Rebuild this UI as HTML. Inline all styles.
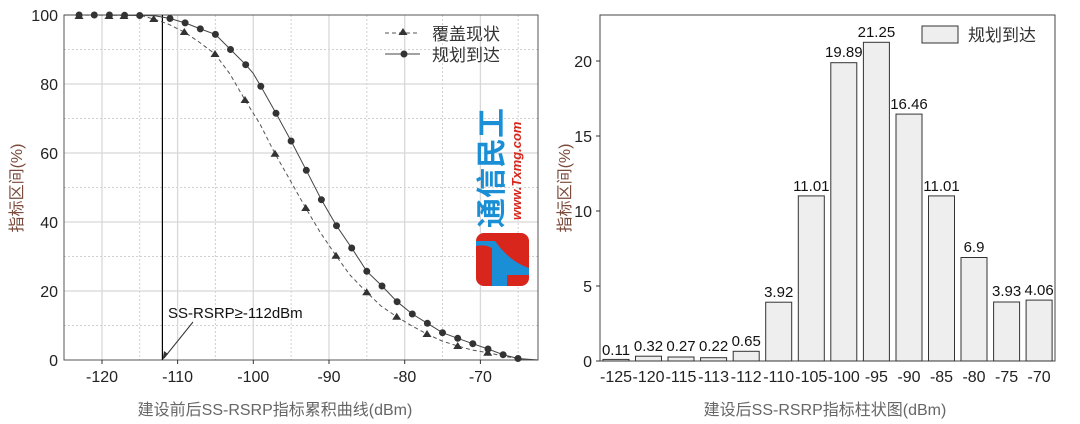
<!DOCTYPE html>
<html><head><meta charset="utf-8"><style>
body{margin:0;background:#fff}
svg{display:block}
text{font-family:"Liberation Sans","Noto Sans CJK SC",sans-serif}
</style></head><body>
<svg width="1080" height="424" viewBox="0 0 1080 424">
<g stroke="#d0d0d0" stroke-width="1" stroke-dasharray="2,2">
<line x1="139.7" y1="15" x2="139.7" y2="360"/><line x1="215.4" y1="15" x2="215.4" y2="360"/><line x1="291.1" y1="15" x2="291.1" y2="360"/><line x1="366.8" y1="15" x2="366.8" y2="360"/><line x1="442.5" y1="15" x2="442.5" y2="360"/><line x1="518.2" y1="15" x2="518.2" y2="360"/>
<line x1="64" y1="325.5" x2="538" y2="325.5"/><line x1="64" y1="256.5" x2="538" y2="256.5"/><line x1="64" y1="187.5" x2="538" y2="187.5"/><line x1="64" y1="118.5" x2="538" y2="118.5"/><line x1="64" y1="49.5" x2="538" y2="49.5"/>
</g>
<g stroke="#d8d8d8" stroke-width="1.3">
<line x1="102" y1="15" x2="102" y2="360"/><line x1="177.6" y1="15" x2="177.6" y2="360"/><line x1="253.3" y1="15" x2="253.3" y2="360"/><line x1="329" y1="15" x2="329" y2="360"/><line x1="404.7" y1="15" x2="404.7" y2="360"/><line x1="480.4" y1="15" x2="480.4" y2="360"/>
<line x1="64" y1="291" x2="538" y2="291"/><line x1="64" y1="222" x2="538" y2="222"/><line x1="64" y1="153" x2="538" y2="153"/><line x1="64" y1="84" x2="538" y2="84"/>
</g>
<rect x="64" y="15" width="474" height="345" fill="none" stroke="#555" stroke-width="1"/>
<g stroke="#333" stroke-width="1">
<line x1="102" y1="360" x2="102" y2="364"/><line x1="177.6" y1="360" x2="177.6" y2="364"/><line x1="253.3" y1="360" x2="253.3" y2="364"/><line x1="329" y1="360" x2="329" y2="364"/><line x1="404.7" y1="360" x2="404.7" y2="364"/><line x1="480.4" y1="360" x2="480.4" y2="364"/>
</g>
<g font-size="16" fill="#222" text-anchor="end">
<text x="58" y="21">100</text><text x="58" y="90">80</text><text x="58" y="159">60</text><text x="58" y="228">40</text><text x="58" y="297">20</text><text x="58" y="366">0</text>
</g>
<g font-size="16" fill="#222" text-anchor="middle">
<text x="102" y="382">-120</text><text x="177.6" y="382">-110</text><text x="253.3" y="382">-100</text><text x="329" y="382">-90</text><text x="404.7" y="382">-80</text><text x="480.4" y="382">-70</text>
</g>
<text x="275" y="415" font-size="16" fill="#666" text-anchor="middle">建设前后SS-RSRP指标累积曲线(dBm)</text>
<text transform="translate(22,188) rotate(-90)" font-size="16" fill="#7a4a3a" text-anchor="middle">指标区间(%)</text>
<rect x="476" y="233" width="53" height="53" rx="8" fill="#d9261c"/>
<path d="M476,241 L495,241 Q510,262 529,268 L529,275 L507,275 L507,286 L492,286 L492,248 Q485,244 476,246 Z" fill="#1a8fd6"/>
<text transform="translate(502,228) rotate(-90)" font-size="30" font-weight="bold" fill="#1a8fd6">通信民工</text>
<text transform="translate(521,220) rotate(-90)" font-size="13" font-weight="bold" font-style="italic" fill="#d9261c">www.Txmg.com</text>
<line x1="162.4" y1="15" x2="162.4" y2="360" stroke="#000" stroke-width="1.2"/>
<line x1="193" y1="322" x2="164" y2="358" stroke="#333" stroke-width="1"/>
<path d="M162.5,360 L164,351 L168,354 Z" fill="#333"/>
<text x="168" y="318" font-size="15" fill="#111">SS-RSRP≥-112dBm</text>
<polyline fill="none" stroke="#555" stroke-width="1" stroke-dasharray="4,3" points="64,15 140,15.3 153.7,19 168,24 184.3,32 199,42 215,54 230,74 245,100 260,124 275,153.7 290,180 305.7,208 320,232 336,255.7 350,275 366.7,292.3 381,306 396.7,316.7 412,326 427,334 442,341 457.7,346 472,350 487.7,352.7 503,356 520,359 538,360"/>
<g fill="#333">
<path d="M153.7,15 l4.5,7 h-9z"/><path d="M184.3,28 l4.5,7 h-9z"/><path d="M215,50 l4.5,7 h-9z"/><path d="M245,96 l4.5,7 h-9z"/><path d="M275,149.7 l4.5,7 h-9z"/><path d="M305.7,204 l4.5,7 h-9z"/><path d="M336,251.7 l4.5,7 h-9z"/><path d="M366.7,288.3 l4.5,7 h-9z"/><path d="M396.7,312.7 l4.5,7 h-9z"/><path d="M427,330 l4.5,7 h-9z"/><path d="M457.7,342 l4.5,7 h-9z"/><path d="M487.7,348.7 l4.5,7 h-9z"/>
<path d="M79,12 l4.5,7 h-9z"/><path d="M109,12 l4.5,7 h-9z"/><path d="M124,12 l4.5,7 h-9z"/>
</g>
<polyline fill="none" stroke="#444" stroke-width="1" points="64,15 79.1,15 94.3,15 109.4,15 124.6,15.3 139.7,15.5 154.8,15.8 170,18.5 185.1,22.9 200.3,28.9 215.4,34.4 230.5,49.5 245.7,64.7 253,73 260.8,86.3 276,113.3 291.1,141 306.3,170.3 321.4,199.7 336.5,225.7 351.7,248 366.8,271.3 382,286 397.1,301.7 412.3,314 427.4,323.3 442.5,332.7 457.7,338.3 472.8,343.7 488,349 503.1,354.7 518,358.5 538,360"/>
<g fill="#333">
<circle cx="79.1" cy="15" r="3.5"/><circle cx="94.3" cy="15" r="3.5"/><circle cx="109.4" cy="15" r="3.5"/><circle cx="124.6" cy="15.3" r="3.5"/><circle cx="139.7" cy="15.5" r="3.5"/><circle cx="170" cy="18.5" r="3.5"/><circle cx="185.1" cy="22.9" r="3.5"/><circle cx="200.3" cy="28.9" r="3.5"/><circle cx="215.4" cy="34.4" r="3.5"/><circle cx="230.5" cy="49.5" r="3.5"/><circle cx="245.7" cy="64.7" r="3.5"/><circle cx="260.8" cy="86.3" r="3.5"/><circle cx="276" cy="113.3" r="3.5"/><circle cx="291.1" cy="141" r="3.5"/><circle cx="306.3" cy="170.3" r="3.5"/><circle cx="321.4" cy="199.7" r="3.5"/><circle cx="336.5" cy="225.7" r="3.5"/><circle cx="351.7" cy="248" r="3.5"/><circle cx="366.8" cy="271.3" r="3.5"/><circle cx="382" cy="286" r="3.5"/><circle cx="397.1" cy="301.7" r="3.5"/><circle cx="412.3" cy="314" r="3.5"/><circle cx="427.4" cy="323.3" r="3.5"/><circle cx="442.5" cy="332.7" r="3.5"/><circle cx="457.7" cy="338.3" r="3.5"/><circle cx="472.8" cy="343.7" r="3.5"/><circle cx="488" cy="349" r="3.5"/><circle cx="503.1" cy="354.7" r="3.5"/><circle cx="518" cy="358.5" r="3.5"/>
</g>
<line x1="385" y1="33" x2="418" y2="33" stroke="#555" stroke-dasharray="4,3"/>
<path d="M403,28 l4.5,7 h-9z" fill="#333"/>
<text x="432" y="40" font-size="17" fill="#333">覆盖现状</text>
<line x1="385" y1="54" x2="420" y2="54" stroke="#444"/>
<circle cx="404" cy="54" r="3.5" fill="#333"/>
<text x="432" y="61" font-size="17" fill="#333">规划到达</text>

<rect x="600" y="15" width="455" height="346" fill="none" stroke="#444" stroke-width="1"/>
<g stroke="#333"><line x1="596" y1="361" x2="600" y2="361"/><line x1="596" y1="286" x2="600" y2="286"/><line x1="596" y1="211" x2="600" y2="211"/><line x1="596" y1="136" x2="600" y2="136"/><line x1="596" y1="61" x2="600" y2="61"/></g>
<g font-size="16" fill="#222" text-anchor="end">
<text x="592" y="367">0</text><text x="592" y="292">5</text><text x="592" y="217">10</text><text x="592" y="142">15</text><text x="592" y="67">20</text>
</g>
<g fill="#eeeeee" stroke="#333" stroke-width="1">
<rect x="603" y="359.4" width="26" height="1.6"/>
<rect x="635.5" y="356.2" width="26" height="4.8"/>
<rect x="668" y="357" width="26" height="4"/>
<rect x="700.6" y="357.7" width="26" height="3.3"/>
<rect x="733.2" y="351.3" width="26" height="9.7"/>
<rect x="765.7" y="302.2" width="26" height="58.8"/>
<rect x="798.3" y="195.9" width="26" height="165.1"/>
<rect x="830.8" y="62.7" width="26" height="298.3"/>
<rect x="863.4" y="42.3" width="26" height="318.7"/>
<rect x="896" y="114.1" width="26" height="246.9"/>
<rect x="928.5" y="195.9" width="26" height="165.1"/>
<rect x="961" y="257.5" width="26" height="103.5"/>
<rect x="993.6" y="302" width="26" height="59"/>
<rect x="1026.1" y="300.1" width="26" height="60.9"/>
</g>
<g font-size="15" fill="#111" text-anchor="middle">
<text x="616" y="355">0.11</text><text x="648.5" y="351">0.32</text><text x="681" y="351">0.27</text><text x="713.6" y="351">0.22</text><text x="746.2" y="346">0.65</text><text x="778.7" y="297">3.92</text><text x="811.3" y="191">11.01</text><text x="843.8" y="57">19.89</text><text x="876.4" y="37">21.25</text><text x="909" y="109">16.46</text><text x="941.5" y="191">11.01</text><text x="974" y="252">6.9</text><text x="1006.6" y="296">3.93</text><text x="1039.1" y="295">4.06</text>
</g>
<g font-size="16" fill="#222" text-anchor="middle">
<text x="616" y="382">-125</text><text x="648.5" y="382">-120</text><text x="681" y="382">-115</text><text x="713.6" y="382">-113</text><text x="746.2" y="382">-112</text><text x="778.7" y="382">-110</text><text x="811.3" y="382">-105</text><text x="843.8" y="382">-100</text><text x="876.4" y="382">-95</text><text x="909" y="382">-90</text><text x="941.5" y="382">-85</text><text x="974" y="382">-80</text><text x="1006.6" y="382">-75</text><text x="1039.1" y="382">-70</text>
</g>
<text x="825" y="415" font-size="16" fill="#666" text-anchor="middle">建设后SS-RSRP指标柱状图(dBm)</text>
<text transform="translate(570,188) rotate(-90)" font-size="16" fill="#7a4a3a" text-anchor="middle">指标区间(%)</text>
<rect x="922" y="26" width="36" height="17" fill="#eeeeee" stroke="#333"/>
<text x="968" y="41" font-size="17" fill="#333">规划到达</text>
</svg>
</body></html>
